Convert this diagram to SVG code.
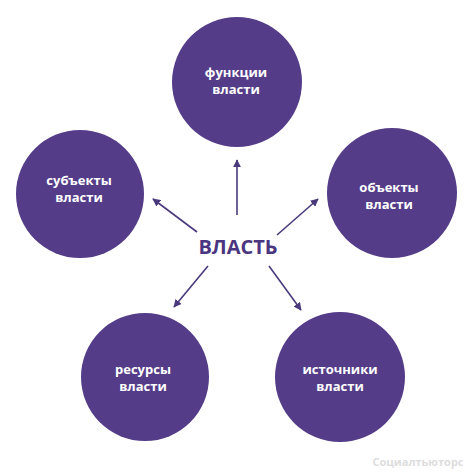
<svg xmlns="http://www.w3.org/2000/svg" width="474" height="474" viewBox="0 0 474 474">
<defs>
<style>
.c{fill:#553c88}
.t{font-family:"Open Sans","Noto Sans","Liberation Sans",sans-serif;font-weight:bold;font-size:13px;fill:#ffffff;text-anchor:middle}
.a{stroke:#4a3a7c;stroke-width:1.6;fill:none;marker-end:url(#h)}
</style>
<marker id="h" viewBox="0 0 10 10" refX="9" refY="5" markerWidth="5" markerHeight="5" orient="auto" markerUnits="strokeWidth">
<path d="M0,0 L10,5 L0,10 Z" fill="#4a3a7c"/>
</marker>
</defs>
<rect width="474" height="474" fill="#ffffff"/>
<g id="connectors">
<line class="a" x1="237" y1="215" x2="237" y2="160"/>
<line class="a" x1="197" y1="232" x2="153" y2="199"/>
<line class="a" x1="277" y1="235" x2="318" y2="199"/>
<line class="a" x1="208" y1="266" x2="174" y2="307"/>
<line class="a" x1="269" y1="266" x2="301" y2="310"/>
</g>
<g id="center">
<text x="238" y="254" font-family="'Open Sans','Noto Sans','Liberation Sans',sans-serif" font-weight="bold" font-size="20" fill="#4a3580" text-anchor="middle">ВЛАСТЬ</text>
</g>
<g id="functions">
<circle class="c" cx="237" cy="82" r="65"/>
<text class="t" x="236" y="77">функции</text>
<text class="t" x="236" y="94">власти</text>
</g>
<g id="subjects">
<circle class="c" cx="80" cy="194" r="64"/>
<text class="t" x="79" y="185">субъекты</text>
<text class="t" x="79" y="202">власти</text>
</g>
<g id="objects">
<circle class="c" cx="392" cy="193" r="65"/>
<text class="t" x="389" y="192">объекты</text>
<text class="t" x="389" y="209">власти</text>
</g>
<g id="resources">
<circle class="c" cx="145" cy="377" r="64"/>
<text class="t" x="143" y="374">ресурсы</text>
<text class="t" x="143" y="391">власти</text>
</g>
<g id="sources">
<circle class="c" cx="340" cy="377" r="65"/>
<text class="t" x="340" y="374">источники</text>
<text class="t" x="340" y="391">власти</text>
</g>
<text x="418" y="466" font-family="'Open Sans','Noto Sans','Liberation Sans',sans-serif" font-weight="bold" font-size="11" fill="#dddddd" text-anchor="middle">Социалтьюторс</text>
</svg>
